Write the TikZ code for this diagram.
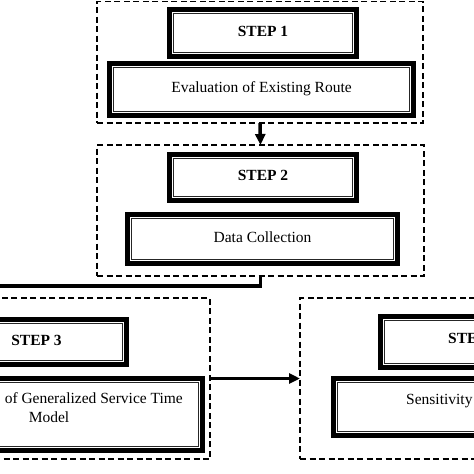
\documentclass[tikz,border=0pt]{standalone}
\usepackage{fontspec}
\setmainfont{Liberation Serif}
\usetikzlibrary{arrows.meta}
\begin{document}
\begin{tikzpicture}[x=1pt,y=-1pt,
  frame/.style={draw, dash pattern=on 6pt off 3.5pt, line width=1.3pt, inner sep=0pt, outer sep=0pt},
  stepbox/.style={draw, line width=5pt, inner sep=0pt, outer sep=0pt, fill=white,
    font=\fontsize{15.5}{19}\selectfont, text height=11pt, text depth=5pt,
    path picture={\draw[line width=1pt, black!85]
      ([shift={(4pt,-4pt)}]path picture bounding box.north west) rectangle
      ([shift={(-4pt,4pt)}]path picture bounding box.south east);}},
  boldtext/.style={font=\fontsize{15.5}{19}\selectfont\bfseries},
  plaintext/.style={font=\fontsize{15.5}{19}\selectfont, inner sep=0pt},
  conn/.style={line width=3.5pt},
  flow/.style={line width=3.5pt, -{Triangle[length=11pt,width=10pt]}}
]
\useasboundingbox (0,0) rectangle (474,474);
\fill[white] (0,0) rectangle (474,474);
\clip (0,0) rectangle (474,474);

% frames
\node[frame, minimum width=326pt, minimum height=121.5pt] (f1) at (260,62.25) {};
\node[frame, minimum width=327pt, minimum height=131pt] (f2) at (260.5,210.5) {};
\node[frame, minimum width=330pt, minimum height=161pt] (f3) at (45,378.5) {};
\node[frame, minimum width=330pt, minimum height=161pt] (f4) at (465,378.5) {};

% boxes
\node[stepbox, boldtext, minimum width=187pt, minimum height=47pt] (s1) at (263,33) {STEP 1};
\node[stepbox, minimum width=304pt, minimum height=52pt] (e1) at (261.5,89.5) {Evaluation of Existing Route};
\node[stepbox, boldtext, minimum width=187pt, minimum height=46pt] (s2) at (263,177.5) {STEP 2};
\node[stepbox, minimum width=270pt, minimum height=49pt] (d2) at (262.5,239) {Data Collection};
\node[stepbox, boldtext, minimum width=180pt, minimum height=45pt] (s3) at (36.5,342) {STEP 3};
\node[stepbox, minimum width=307pt, minimum height=72pt] (g3) at (49,414.5) {};
\node[stepbox, minimum width=185pt, minimum height=51pt] (s4) at (473,342) {};
\node[stepbox, minimum width=264pt, minimum height=57pt] (e4) at (465.5,407) {};

% partially visible texts
\node[plaintext, anchor=base east] (g3a) at (183,403) {of Generalized Service Time};
\node[plaintext, anchor=base] (g3b) at (49,422) {Model};
\node[plaintext, anchor=base west] (e4a) at (406,404) {Sensitivity};
\node[plaintext, boldtext, inner sep=0pt, anchor=base west] (s4a) at (448,343) {STE};

% connectors
\coordinate (c3) at (-20,286);
\draw[flow] (f1.south) -- (f2.north);
\draw[conn] (f2.south) |- (c3);
\draw[flow] (f3.east) -- (f4.west);
\end{tikzpicture}
\end{document}
